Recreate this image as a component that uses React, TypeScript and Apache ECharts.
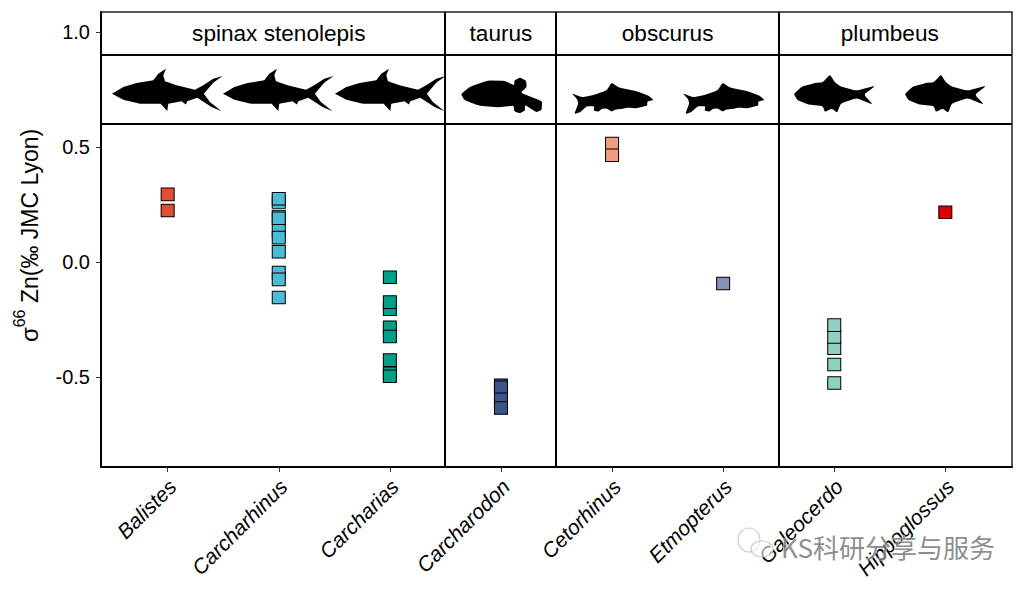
import React, { useEffect, useRef } from "react";
import * as echarts from "echarts";

const genera = ["Balistes", "Carcharhinus", "Carcharias", "Carcharodon", "Cetorhinus", "Etmopterus", "Galeocerdo", "Hippoglossus"];
const colors = ["#E64B35", "#4DBBD5", "#00A087", "#3C5488", "#F39B7F", "#8491B4", "#91D1C2", "#DC0000"];

const balistes = [0.295, 0.225];
const carcharhinus = [0.2615, 0.276, 0.199, 0.191, 0.137, 0.107, 0.046, -0.045, -0.074, -0.153];
const carcharias = [-0.065, -0.204, -0.173, -0.282, -0.322, -0.425, -0.482, -0.495];
const carcharodon = [-0.534, -0.543, -0.595, -0.633];
const cetorhinus = [0.516, 0.465];
const etmopterus = [-0.092];
const galeocerdo = [-0.373, -0.324, -0.273, -0.444, -0.524];
const hippoglossus = [0.217];
const values = [balistes, carcharhinus, carcharias, carcharodon, cetorhinus, etmopterus, galeocerdo, hippoglossus];

const yTicks = [-0.5, 0, 0.5, 1];
const xTicks = [1, 2, 3, 4, 5, 6, 7, 8];
const groupBreaks = [3.49, 4.49, 6.5];
const stripBreaks = [0.6, 0.9];
const strips = [
  { name: "spinax stenolepis", at: 2 },
  { name: "taurus", at: 4 },
  { name: "obscurus", at: 5.5 },
  { name: "plumbeus", at: 7.5 },
];

const toPath = (pts: number[][]) => "M" + pts.map((p) => p.join(" ")).join("L") + "Z";
const toSoftPath = (pts: number[][]) => {
  const n = pts.length;
  const mix = (a: number[], b: number[], t: number) => [a[0] + (b[0] - a[0]) * t, a[1] + (b[1] - a[1]) * t];
  let d = "";
  pts.forEach((p, i) => {
    const prev = pts[(i + n - 1) % n];
    const next = pts[(i + 1) % n];
    const a = mix(p, prev, 0.18);
    const b = mix(p, next, 0.18);
    d += (i === 0 ? "M" : "L") + a.join(" ") + "Q" + p.join(" ") + " " + b.join(" ");
  });
  return d + "Z";
};
const sharkPts = [[6,95],[40,75],[80,63],[130,55],[145,35],[168,20],[160,40],[165,58],[200,70],[255,83],[280,70],[310,50],[338,42],[310,62],[282,95],[300,120],[335,148],[305,135],[262,107],[232,118],[228,128],[215,118],[175,125],[172,147],[152,125],[90,125],[40,113]];
const stubbyPts = [[18,72],[45,50],[100,31],[150,33],[178,46],[178,32],[195,22],[214,33],[215,52],[197,68],[262,94],[260,120],[245,127],[210,105],[210,122],[195,130],[178,124],[176,107],[130,112],[70,107],[28,90]];
const slimPts = [[20,55],[50,67],[85,60],[125,46],[140,23],[162,38],[215,48],[252,63],[266,75],[247,80],[247,92],[215,100],[190,98],[170,102],[150,104],[140,110],[125,100],[110,102],[100,110],[86,107],[88,94],[65,94],[45,112],[28,117],[40,85],[36,72]];
const deepPts = [[26,78],[50,56],[90,45],[113,43],[135,20],[150,43],[167,56],[215,68],[272,53],[237,80],[264,110],[215,90],[167,107],[157,134],[140,122],[120,132],[113,114],[70,110],[38,97]];

echarts.graphic.registerShape("fishShark", echarts.graphic.extendPath(toPath(sharkPts), {}) as any);
echarts.graphic.registerShape("fishStubby", echarts.graphic.extendPath(toSoftPath(stubbyPts), {}) as any);
echarts.graphic.registerShape("fishSlim", echarts.graphic.extendPath(toSoftPath(slimPts), {}) as any);
echarts.graphic.registerShape("fishDeep", echarts.graphic.extendPath(toSoftPath(deepPts), {}) as any);

const fishes = [
  { type: "fishShark", x: 110, y: 62 },
  { type: "fishShark", x: 221, y: 62 },
  { type: "fishShark", x: 333, y: 62 },
  { type: "fishStubby", x: 455, y: 70 },
  { type: "fishSlim", x: 565, y: 75 },
  { type: "fishSlim", x: 676, y: 75 },
  { type: "fishDeep", x: 785, y: 68 },
  { type: "fishDeep", x: 896, y: 68 },
];

const FONT = "'Liberation Sans', Arial, sans-serif";

export default function App() {
  const ref = useRef<HTMLDivElement>(null);
  useEffect(() => {
    const chart = echarts.init(ref.current!, undefined, { renderer: "svg" });
    const lineStyle = { color: "#000", width: 2, type: "solid" as const };
    const base: any = {
      animation: false,
      backgroundColor: "#fff",
      grid: { left: 101, top: 12, right: 12, bottom: 125, show: true, borderColor: "#222", borderWidth: 1.5, backgroundColor: "transparent" },
      xAxis: {
        type: "value",
        min: 0.4,
        max: 8.6,
        splitLine: { show: false },
        axisLine: { show: true, onZero: false, lineStyle: { color: "#000", width: 2 } },
        axisTick: { show: true, length: 5, customValues: xTicks, lineStyle: { color: "#333", width: 1 } },
        axisLabel: {
          customValues: xTicks,
          rotate: 45,
          margin: 11,
          fontFamily: FONT,
          color: "#000",
          formatter: (v: number) => `{g| }\n{n|${genera[Math.round(v) - 1]}}`,
          rich: {
            g: { fontSize: 1, lineHeight: 14 },
            n: { fontFamily: FONT, fontStyle: "italic", fontSize: 21, color: "#000", align: "right" },
          },
        },
      },
      yAxis: {
        type: "value",
        min: -0.889,
        max: 1.087,
        splitLine: { show: false },
        axisLine: { show: true, onZero: false, lineStyle: { color: "#000", width: 2 } },
        axisTick: { show: true, length: 5, customValues: yTicks, lineStyle: { color: "#333", width: 1 } },
        axisLabel: {
          customValues: yTicks,
          margin: 11,
          fontFamily: FONT,
          fontSize: 20,
          color: "#000",
          formatter: (v: number) => v.toFixed(1),
        },
        name: "{s|σ}{b|66}{a| Zn(‰ JMC Lyon)}",
        nameLocation: "middle",
        nameRotate: 90,
        nameGap: 60,
        nameTextStyle: {
          rich: {
            s: { fontFamily: FONT, fontSize: 24, color: "#000", verticalAlign: "bottom", padding: [0, 0, 0, 8] },
            a: { fontFamily: FONT, fontSize: 23, color: "#000", verticalAlign: "bottom" },
            b: { fontFamily: FONT, fontSize: 16, color: "#000", verticalAlign: "top", padding: [0, 0, 14, 0] },
          },
        },
      },
      series: values.map((vals, i) => ({
        type: "scatter",
        name: genera[i],
        symbol: "rect",
        symbolSize: [13, 12.6],
        z: 5,
        itemStyle: { color: colors[i], borderColor: "#000", borderWidth: 1, opacity: 1 },
        data: vals.map((v) => [i + 1, v]),
        ...(i === 0
          ? {
              markLine: {
                silent: true,
                symbol: "none",
                animation: false,
                label: { show: false },
                lineStyle,
                data: [
                  ...groupBreaks.map((b) => ({ xAxis: b })),
                  ...stripBreaks.map((b) => ({ yAxis: b })),
                ],
              },
            }
          : {}),
      })),
    };
    chart.setOption(base);

    const stripTexts = strips.map((s) => {
      const [x, y] = chart.convertToPixel({ gridIndex: 0 }, [s.at, 0.992]) as number[];
      return {
        type: "text",
        x,
        y,
        z: 10,
        style: { text: s.name, fontFamily: FONT, fontSize: 22.6, fill: "#000", align: "center", verticalAlign: "middle" },
      };
    });
    const fishEls = fishes.map((f) => ({
      type: f.type,
      x: f.x,
      y: f.y,
      scaleX: 1 / 3,
      scaleY: 1 / 3,
      z: 1,
      style: { fill: "#000" },
    }));
    const watermark = [
      { type: "ellipse", z: 20, shape: { cx: 749, cy: 540, rx: 11, ry: 12 }, style: { fill: "rgba(255,255,255,0.6)", stroke: "#ccc", lineWidth: 1.2 } },
      { type: "ellipse", z: 21, shape: { cx: 762, cy: 549, rx: 11, ry: 8 }, style: { fill: "rgba(255,255,255,0.6)", stroke: "#ccc", lineWidth: 1.2 } },
      {
        type: "text",
        z: 22,
        x: 781,
        y: 546,
        style: {
          text: "KS科研分享与服务",
          fontFamily: "'Noto Sans CJK SC', sans-serif",
          fontSize: 26,
          fill: "rgba(110,110,110,0.8)",
          stroke: "rgba(255,255,255,0.7)",
          lineWidth: 1,
          align: "left",
          verticalAlign: "middle",
        },
      },
    ];
    chart.setOption({ graphic: { elements: [...fishEls, ...stripTexts, ...watermark] } });
    return () => chart.dispose();
  }, []);
  return <div ref={ref} style={{ position: "absolute", left: 0, top: 0, width: 1024, height: 592 }} />;
}
